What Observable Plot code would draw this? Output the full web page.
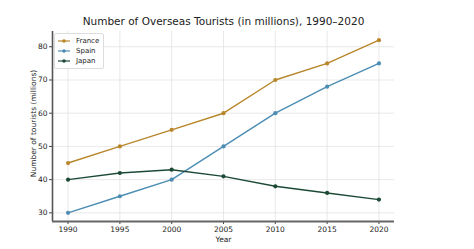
<!DOCTYPE html>
<html>
<head>
<meta charset="utf-8">
<script src="https://cdn.jsdelivr.net/npm/d3@7"></script>
<script src="https://cdn.jsdelivr.net/npm/@observablehq/plot@0.6"></script>
<style>
  html, body { margin: 0; padding: 0; background: #fff; }
  #chart { position: relative; width: 474px; height: 249px; font-family: "DejaVu Sans", sans-serif; }
  #legend {
    position: absolute; left: 54px; top: 33px;
    border: 1px solid #ddd; border-radius: 2px; background: rgba(255,255,255,0.85);
    padding: 2px 4px 2px 3px; font-size: 7px; line-height: 10px; color: #222;
  }
  #legend div { display: flex; align-items: center; white-space: nowrap; }
  #legend svg { margin-right: 6px; }
</style>
</head>
<body>
<div id="chart"></div>
<script>
// Tourist arrivals by country, millions
const years = [1990, 1995, 2000, 2005, 2010, 2015, 2020];
const france = [45, 50, 55, 60, 70, 75, 82];
const spain = [30, 35, 40, 50, 60, 68, 75];
const japan = [40, 42, 43, 41, 38, 36, 34];

const countries = ["France", "Spain", "Japan"];
const colors = ["#b8862b", "#4b8db3", "#1d4a36"];
const seriesValues = [france, spain, japan];

const yTicks = [30, 40, 50, 60, 70, 80];
const xTicks = years;
const title = "Number of Overseas Tourists (in millions), 1990\u20132020";

const rows = countries.flatMap((c, i) =>
  years.map((y, j) => ({country: c, year: y, value: seriesValues[i][j]}))
);

const xDomain = [1988.5, 2021.5];
const yDomain = [27.4, 84.6];

const plot = Plot.plot({
  width: 474,
  height: 249,
  marginLeft: 52,
  marginRight: 80,
  marginTop: 31,
  marginBottom: 28,
  style: {fontFamily: "DejaVu Sans, sans-serif", fontSize: "7.5px", color: "#222", background: "white"},
  x: {domain: xDomain, ticks: xTicks, tickFormat: "d", label: null},
  y: {domain: yDomain, ticks: yTicks, label: null},
  color: {domain: countries, range: colors},
  marks: [
    Plot.gridX(xTicks, {stroke: "#e3e3e3", strokeOpacity: 1, strokeWidth: 0.8}),
    Plot.gridY(yTicks, {stroke: "#e3e3e3", strokeOpacity: 1, strokeWidth: 0.8}),
    Plot.axisX({ticks: xTicks, tickFormat: "d", tickSize: 3, tickPadding: 2, stroke: "#444", fontSize: 7.5}),
    Plot.axisY({ticks: yTicks, tickSize: 3, tickPadding: 2, stroke: "#444", fontSize: 7.5}),
    Plot.ruleX([xDomain[0]], {stroke: "#555", strokeWidth: 1.6}),
    Plot.ruleY([yDomain[0]], {stroke: "#666", strokeWidth: 2}),
    Plot.line(rows, {x: "year", y: "value", z: "country", stroke: "country", strokeWidth: 1.4}),
    Plot.dot(rows, {x: "year", y: "value", fill: "country", r: 2.1, stroke: null}),
    Plot.text([title], {frameAnchor: "top", dy: -14, fontSize: 10.5, fill: "#222"}),
    Plot.text(["Year"], {frameAnchor: "bottom", dy: 20, fontSize: 7.5, fill: "#222"}),
    Plot.text(["Number of tourists (millions)"], {frameAnchor: "left", textAnchor: "middle", dx: -19, dy: -3, rotate: -90, fontSize: 7.5, fill: "#222"})
  ]
});

const chart = document.getElementById("chart");
chart.appendChild(plot);

// Legend: line-with-marker swatch and label per country
const legend = document.createElement("div");
legend.id = "legend";
countries.forEach((c, i) => {
  const row = document.createElement("div");
  row.innerHTML = `<svg width="12" height="6"><line x1="0" x2="12" y1="3" y2="3" stroke="${colors[i]}" stroke-width="1.2"/><circle cx="6" cy="3" r="1.8" fill="${colors[i]}"/></svg><span>${c}</span>`;
  legend.appendChild(row);
});
chart.appendChild(legend);
</script>
</body>
</html>
